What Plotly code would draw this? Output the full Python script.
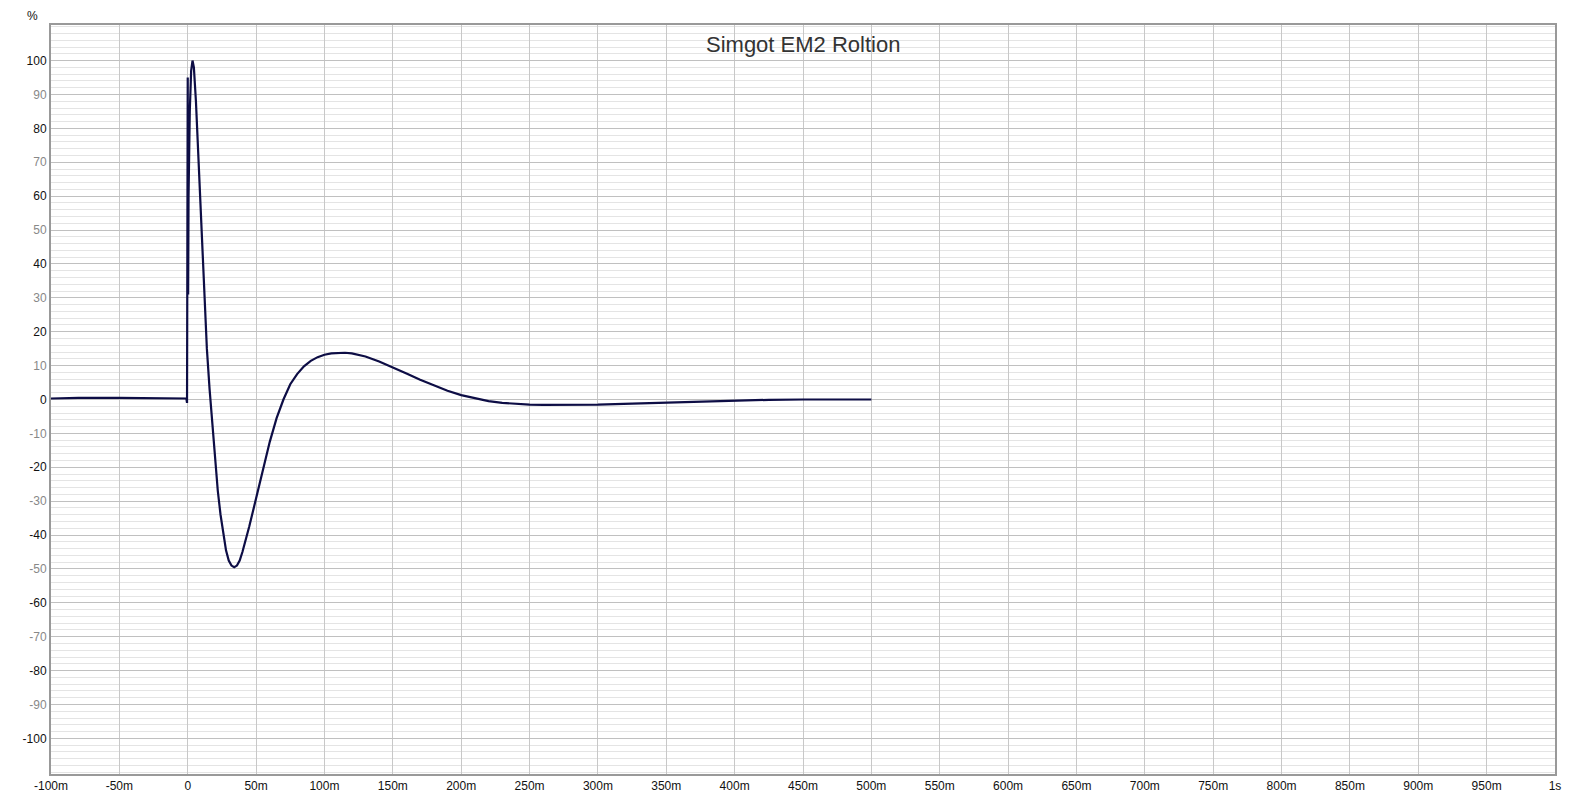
import plotly.graph_objects as go

t_ms = [-100, -80, -50, -20, -1, -0.5, -0.3, 0, 0.3, 0.6, 1.5, 2.5, 3.5, 4.5, 6, 8, 10, 12, 14, 16, 18, 20,
        22, 24, 26, 28, 30, 32, 34, 36, 38, 40, 45, 50, 55, 60, 65, 70, 75, 80, 85, 90, 95, 100, 105, 110,
        115, 120, 130, 140, 150, 160, 170, 180, 190, 200, 210, 220, 230, 240, 250, 260, 275, 300, 325, 350,
        375, 400, 425, 450, 500]
amp = [0.3, 0.5, 0.5, 0.4, 0.3, -1, 95, 95, 31, 60, 85, 97, 100, 98, 88, 70, 50, 30, 15, 3, -8, -18,
       -27, -34, -40, -44.5, -47.5, -49, -49.5, -49, -47.5, -45, -37.5, -29, -20.5, -12.5, -5.5, 0, 4.5, 7.5,
       9.8, 11.4, 12.5, 13.2, 13.6, 13.8, 13.8, 13.6, 12.7, 11.2, 9.5, 7.7, 5.8, 4.1, 2.6, 1.3, 0.3, -0.5,
       -1.0, -1.3, -1.5, -1.6, -1.6, -1.5, -1.2, -0.9, -0.6, -0.3, -0.1, 0, 0]

x_ticks = [i * 0.05 for i in range(-2, 21)]
x_labels = ["-100m", "-50m", "0"] + [f"{i*50}m" for i in range(1, 20)] + ["1s"]
y_ticks = list(range(-100, 101, 10))
y_labels = [(f"{v}" if (v // 10) % 2 == 0 else f"<span style='color:#888'>{v}</span>") for v in y_ticks]

fig = go.Figure(go.Scatter(x=[v / 1000 for v in t_ms], y=amp, mode="lines",
                           line=dict(color="#0d0d45", width=2.2), hoverinfo="skip"))
fig.update_layout(
    width=1590, height=798, margin=dict(l=43, r=43, t=17, b=32, autoexpand=False),
    paper_bgcolor="white", plot_bgcolor="white", showlegend=False,
    font=dict(family="Liberation Sans, Arial", size=12, color="#111"),
    annotations=[
        dict(text="Simgot EM2 Roltion", x=0.5, y=1.0, xref="paper", yref="paper", yshift=-5,
             showarrow=False, font=dict(size=22, color="#333"), yanchor="top"),
        dict(text="%", x=-0.007, y=1.0, xref="paper", yref="paper", showarrow=False,
             xanchor="right", yanchor="bottom", yshift=0, font=dict(size=12)),
    ],
)
fig.update_xaxes(range=[-0.1, 1.0], tickvals=x_ticks, ticktext=x_labels, showgrid=True, automargin=False,
                 gridcolor="#c8c8c8", gridwidth=1, zeroline=False, showline=True, mirror=True,
                 linecolor="#999", linewidth=2, ticks="", tickfont=dict(size=12))
fig.update_yaxes(range=[-110.5, 110.5], tickvals=y_ticks, ticktext=y_labels, showgrid=True, automargin=False,
                 gridcolor="#c0c0c0", gridwidth=1, zeroline=False, showline=True, mirror=True,
                 linecolor="#999", linewidth=2, ticks="", tickfont=dict(size=12),
                 minor=dict(dtick=2, showgrid=True, gridcolor="#e4e4e4", gridwidth=1))
fig.write_html("out.html")
